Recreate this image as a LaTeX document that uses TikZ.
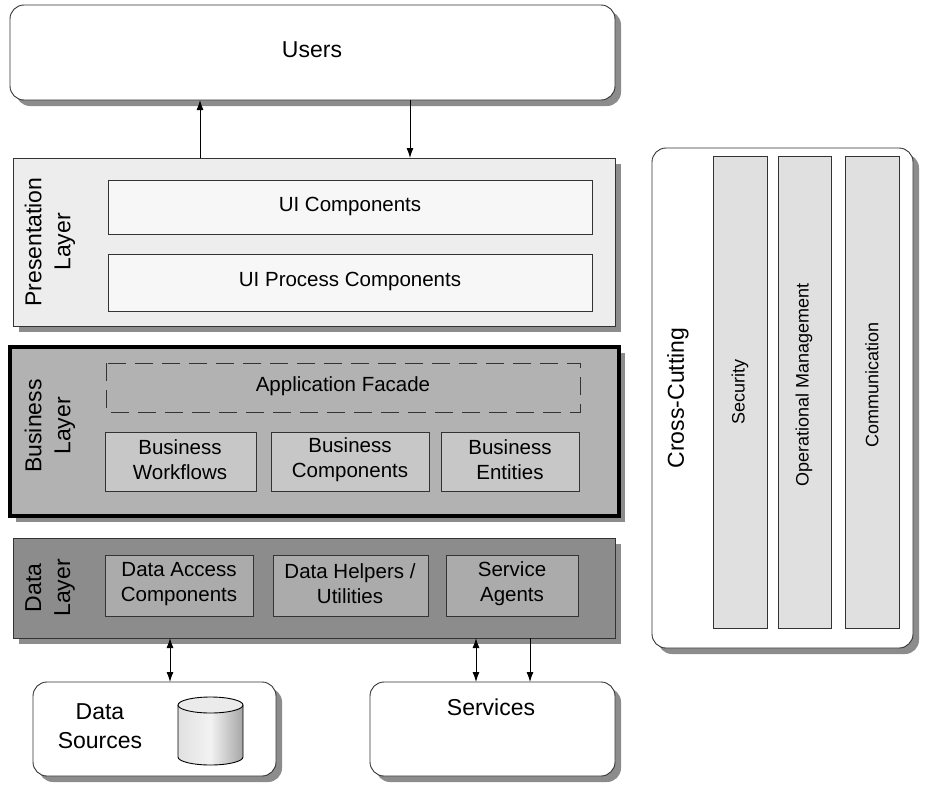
\documentclass[tikz,border=0pt]{standalone}
\usepackage{fontspec}
\setmainfont{Liberation Sans}
\usetikzlibrary{shapes.geometric,arrows.meta}
\begin{document}
\begin{tikzpicture}[x=1pt,y=-1pt,
 shad/.style={fill=black!45},
 box/.style={draw=black!80,line width=0.9pt},
 lbl/.style={font=\fontsize{23}{29}\selectfont,align=center},
 sm/.style={font=\fontsize{20.5}{25}\selectfont,align=center},
 vt/.style={font=\fontsize{18}{20}\selectfont,rotate=90},
 arr/.style={-{Latex[length=10pt,width=7pt]},line width=1pt},
 darr/.style={{Latex[length=10pt,width=7pt]}-{Latex[length=10pt,width=7pt]},line width=1pt}]
\useasboundingbox (0,0) rectangle (928,798);
\fill[white] (0,0) rectangle (928,798);
% Users
\fill[shad,rounded corners=14pt] (16,11) rectangle (621,106);
\draw[box,fill=white,rounded corners=14pt] (10,5) rectangle (615,100);
\node[lbl] (users) at (312,50) {Users};
% Presentation
\fill[shad] (19,164) rectangle (621,332);
\draw[box,fill=black!7] (13,158) rectangle (615,326);
\node[lbl,rotate=90] at (50,242) {Presentation\\Layer};
\draw[box,fill=black!3] (108,180) rectangle (592,234);
\node[sm] at (350,206) {UI Components};
\draw[box,fill=black!3] (108,254) rectangle (592,311);
\node[sm] at (350,281) {UI Process Components};
\coordinate (pu) at (200,158); \coordinate (uu) at (200,100);
\coordinate (ud) at (410,100); \coordinate (pd) at (410,158);
\draw[arr] (pu) -- (uu);
\draw[arr] (ud) -- (pd);
% Business
\fill[shad] (16,353) rectangle (625,522);
\draw[line width=4pt,fill=black!30] (10,347) rectangle (619,516);
\node[lbl,rotate=90] at (50,426) {Business\\Layer};
\draw[box,dashed,dash pattern=on 18pt off 9pt] (106,363) rectangle (580,412);
\node[sm] at (343,386) {Application Facade};
\draw[box,fill=black!22] (105,432) rectangle (256,491);
\node[sm] at (180,460) {Business\\Workflows};
\draw[box,fill=black!22] (271,432) rectangle (429,491);
\node[sm] at (350,460) {Business\\Components};
\draw[box,fill=black!22] (441,432) rectangle (579,491);
\node[sm] at (510,460) {Business\\Entities};
% Data
\fill[shad] (19,544) rectangle (621,644);
\draw[box,fill=black!45] (13,538) rectangle (615,638);
\node[lbl,rotate=90] at (50,588) {Data\\Layer};
\draw[box,fill=black!33] (105,555) rectangle (253,616);
\node[sm] at (179,584) {Data Access\\Components};
\draw[box,fill=black!33] (273,555) rectangle (428,616);
\node[sm] at (350,584) {Data Helpers /\\Utilities};
\draw[box,fill=black!33] (446,555) rectangle (578,616);
\node[sm] at (512,584) {Service\\Agents};
% Data sources
\fill[shad,rounded corners=14pt] (39,688) rectangle (282,782);
\draw[box,fill=white,rounded corners=14pt] (33,682) rectangle (276,776);
\node[lbl] at (100,726) {Data\\Sources};
\shade[left color=black!12,right color=black!35,middle color=black!5] (178,705) -- (178,757) arc[start angle=180,end angle=360,x radius=32.5pt,y radius=8pt] -- (243,705) -- cycle;
\draw[line width=0.9pt] (178,705) -- (178,757) arc[start angle=180,end angle=360,x radius=32.5pt,y radius=8pt] -- (243,705);
\draw[line width=0.9pt,fill=black!8] (210.5,705) ellipse[x radius=32.5pt,y radius=8pt];
% Services
\fill[shad,rounded corners=14pt] (376,688) rectangle (621,782);
\draw[box,fill=white,rounded corners=14pt] (370,682) rectangle (615,776);
\node[lbl] at (491,707) {Services};
\coordinate (a1) at (170,638); \coordinate (b1) at (170,682);
\coordinate (a2) at (476,638); \coordinate (b2) at (476,682);
\coordinate (a3) at (530,638); \coordinate (b3) at (530,682);
\draw[darr] (a1) -- (b1);
\draw[darr] (a2) -- (b2);
\draw[arr] (a3) -- (b3);
% Cross-cutting
\fill[shad,rounded corners=14pt] (658,154) rectangle (919,654);
\draw[box,fill=white,rounded corners=14pt] (652,148) rectangle (913,648);
\node[lbl,rotate=90] at (678,398) {Cross-Cutting};
\draw[box,fill=black!12] (713,156) rectangle (767,628);
\node[vt] at (740,392) {Security};
\draw[box,fill=black!12] (778,156) rectangle (831,628);
\node[vt] at (804,385) {Operational Management};
\draw[box,fill=black!12] (845,156) rectangle (899,628);
\node[vt] at (872,385) {Communication};
\end{tikzpicture}
\end{document}
